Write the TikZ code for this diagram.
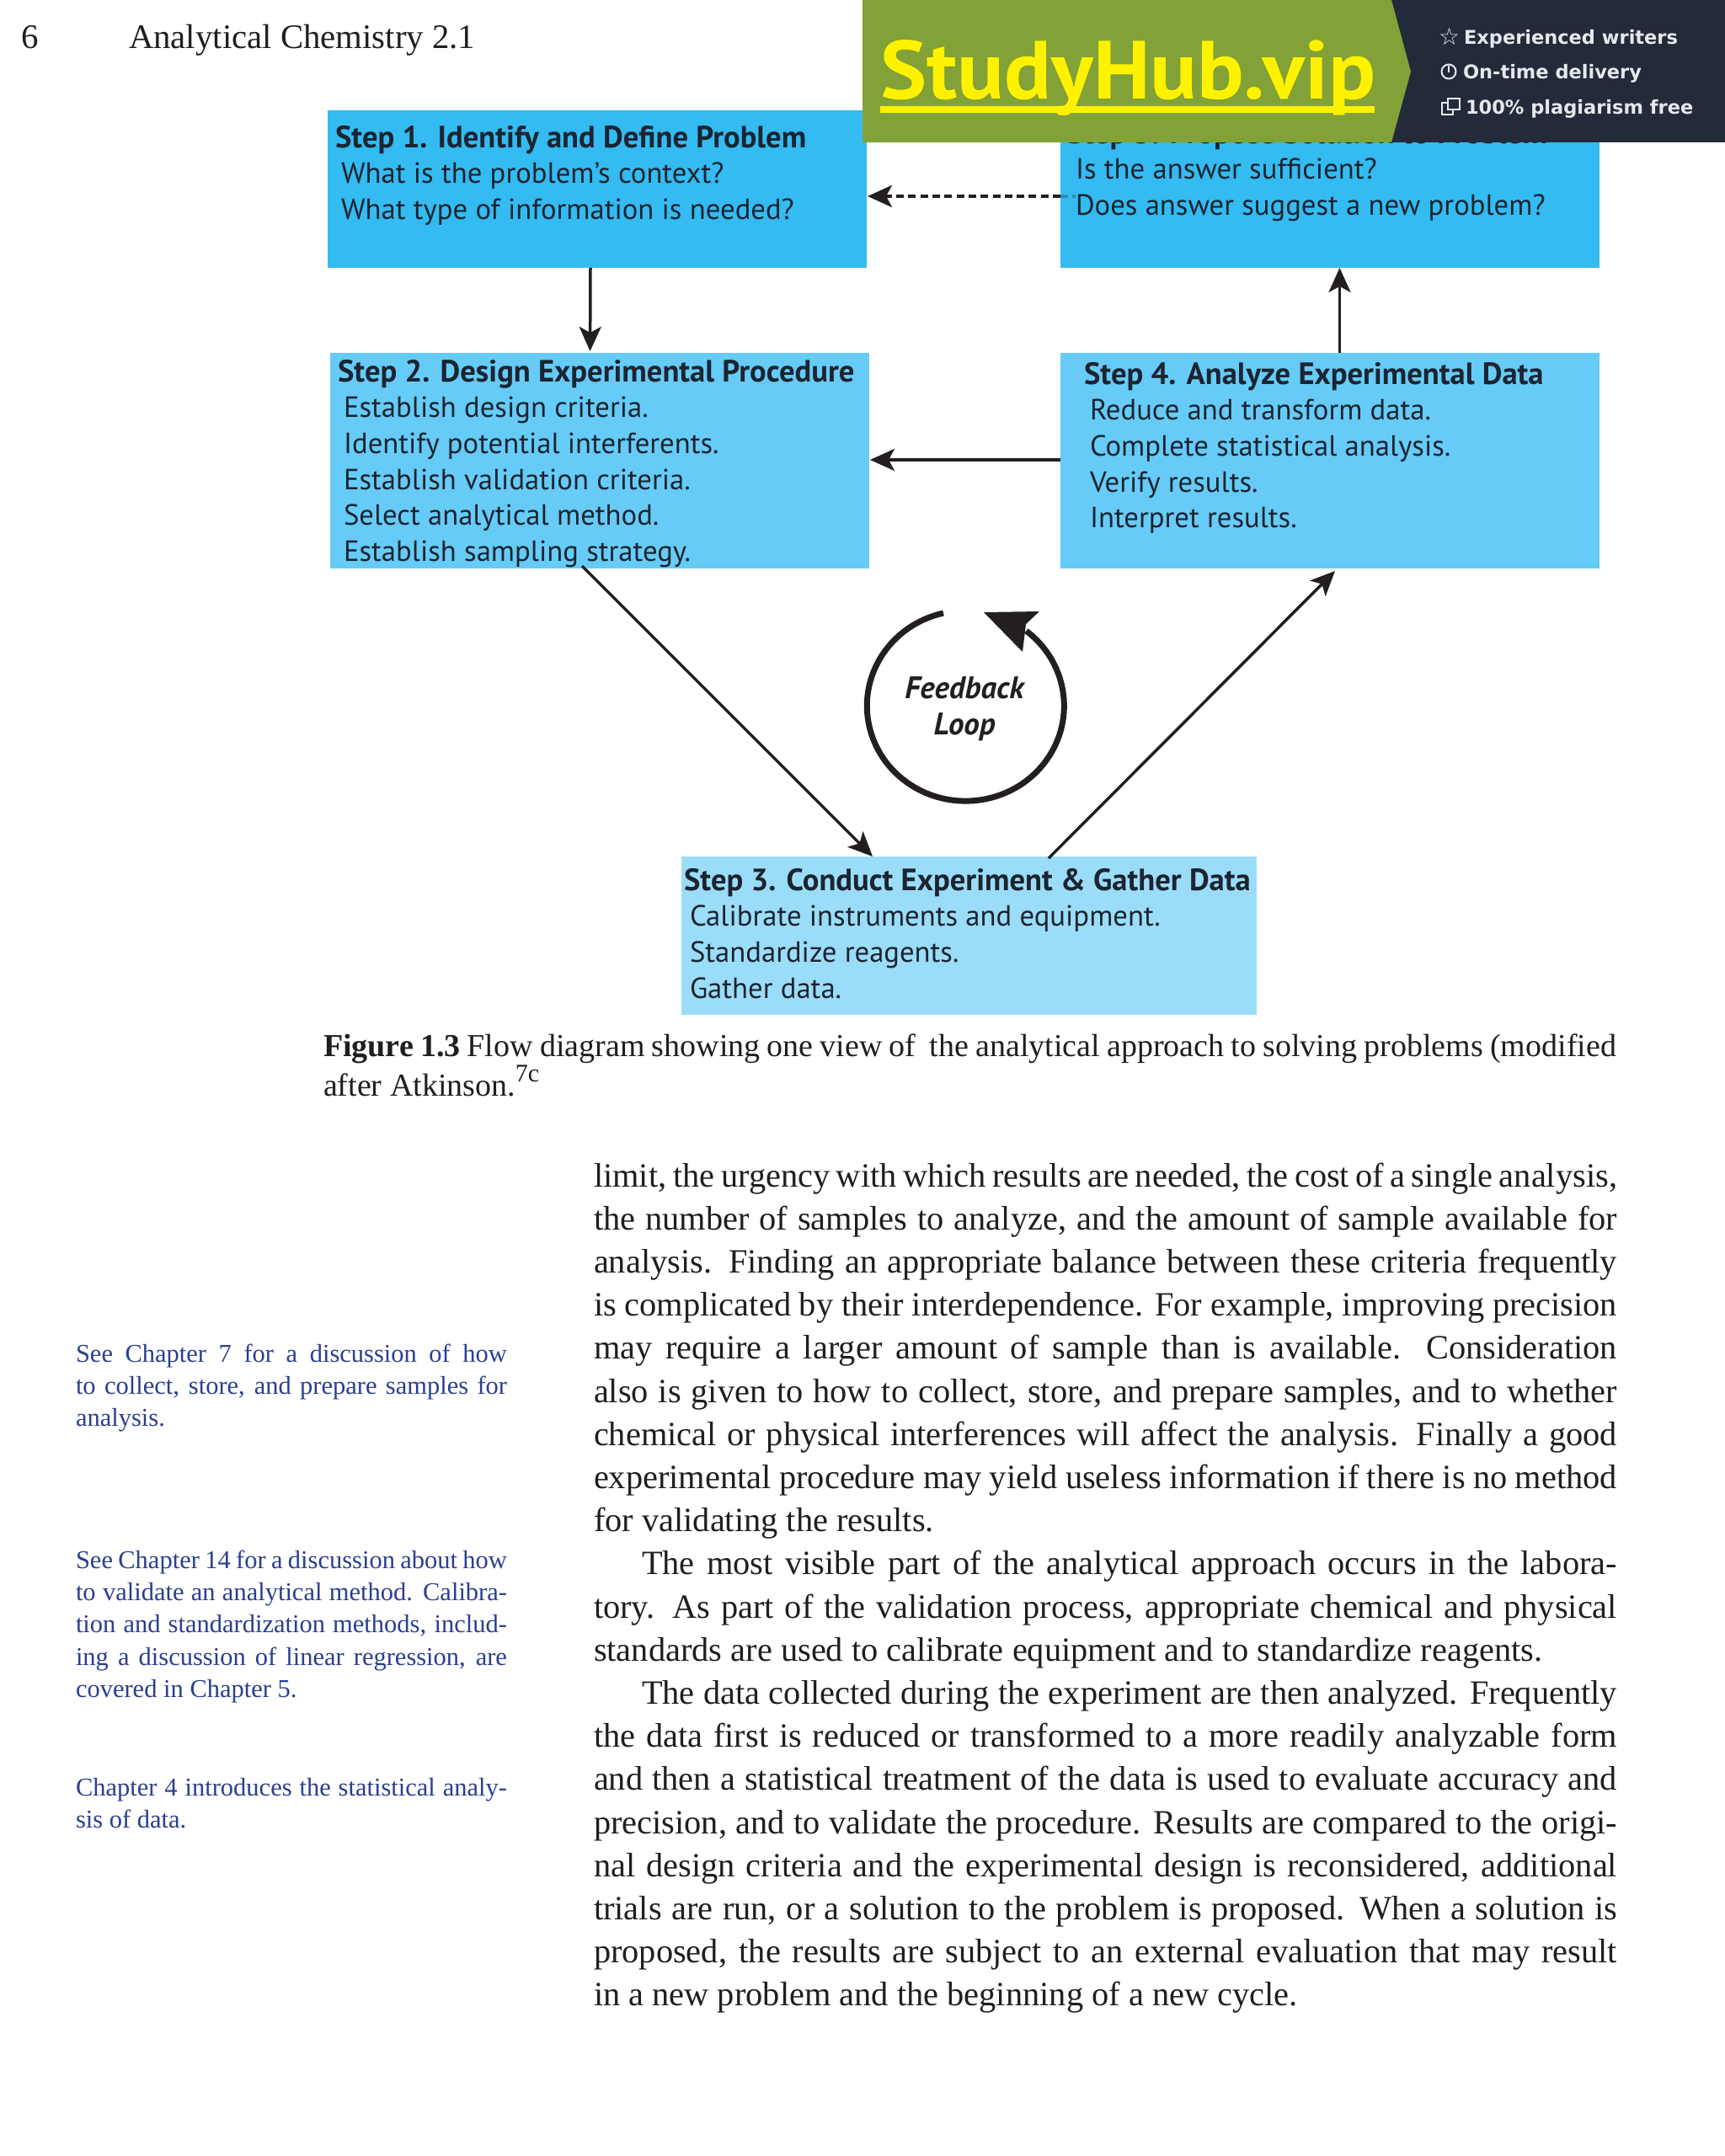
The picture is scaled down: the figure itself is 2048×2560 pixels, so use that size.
\documentclass[tikz,border=0pt]{standalone}
\usepackage{fontspec}
\setmainfont{Liberation Serif}
\newfontfamily\stepfont{PT Sans}
\newfontfamily\badgefont{DejaVu Sans}
\usetikzlibrary{arrows.meta}
\definecolor{stepDeep}{HTML}{33BBF2}
\definecolor{stepMid}{HTML}{66CBF7}
\definecolor{stepPale}{HTML}{9BDDF8}
\definecolor{stepInk}{HTML}{1B2430}
\definecolor{flowInk}{HTML}{231F20}
\definecolor{noteBlue}{HTML}{2B3F8F}
\definecolor{bannerGreen}{HTML}{82A136}
\definecolor{bannerDark}{HTML}{232B3B}
\definecolor{bannerYellow}{HTML}{FFF200}
\definecolor{badgeText}{HTML}{E6E8EB}
\tikzset{
  step box/.style={anchor=north west, inner sep=0pt, outer sep=0pt},
  step text/.style={anchor=north west, inner sep=0pt, outer sep=0pt, align=left,
    text=stepInk, font=\stepfont\fontsize{34.7}{42.6}\selectfont},
  flow/.style={line width=3.5pt, draw=flowInk,
    -{Stealth[length=29pt,width=26pt,inset=7pt]}},
  flow dashed/.style={flow, line width=4pt, dash pattern=on 9pt off 5.3pt},
  page text/.style={anchor=north west, inner sep=0pt, outer sep=0pt, align=left,
    text=black!88},
  note text/.style={page text, text=noteBlue, font=\fontsize{30.5}{38.4}\selectfont},
  badge/.style={anchor=base west, inner sep=0pt, outer sep=0pt, text=badgeText,
    font=\badgefont\bfseries\fontsize{22.5}{24}\selectfont}
}
% one printed line, spaces stretched to the measure
\newcommand{\BodyLine}[1]{\makebox[1215pt][s]{#1}}
\newcommand{\NoteLine}[1]{\makebox[512pt][s]{#1}}
\newcommand{\StepHead}[1]{\strut{\fontsize{36.6}{42.6}\selectfont\bfseries #1}}
\begin{document}
\begin{tikzpicture}[x=1pt,y=-1pt]
  \useasboundingbox (0,0) rectangle (2048,2560);
  \fill[white] (0,0) rectangle (2048,2560);

  % running head
  \node[page text,font=\fontsize{40.8}{48}\selectfont] (pagenum) at (25,24) {\strut 6};
  \node[page text,font=\fontsize{40.8}{48}\selectfont] (runhead) at (153,24) {\strut Analytical Chemistry 2.1};

  % steps
  \node[step box,fill=stepDeep,minimum width=640pt,minimum height=187pt] (step1) at (389,131) {};
  \node[step box,fill=stepMid,minimum width=640pt,minimum height=256pt] (step2) at (392,419) {};
  \node[step box,fill=stepPale,minimum width=683pt,minimum height=188pt] (step3) at (809,1017) {};
  \node[step box,fill=stepMid,minimum width=640pt,minimum height=256pt] (step4) at (1259,419) {};
  \node[step box,fill=stepDeep,minimum width=640pt,minimum height=187pt] (step5) at (1259,131) {};

  \node[step text] (step1 text) at ([xshift=9pt,yshift=-14.5pt]step1.north west) {%
    \StepHead{Step 1. Identify and Define Problem}\\
    \hspace*{7pt}What is the problem’s context?\\
    \hspace*{7pt}What type of information is needed?};
  \node[step text] (step2 text) at ([xshift=9pt,yshift=-4.5pt]step2.north west) {%
    \StepHead{Step 2. Design Experimental Procedure}\\
    \hspace*{7pt}Establish design criteria.\\
    \hspace*{7pt}Identify potential interferents.\\
    \hspace*{7pt}Establish validation criteria.\\
    \hspace*{7pt}Select analytical method.\\
    \hspace*{7pt}Establish sampling strategy.};
  \node[step text] (step3 text) at ([xshift=3pt,yshift=-10.5pt]step3.north west) {%
    \StepHead{Step 3. Conduct Experiment \& Gather Data}\\
    \hspace*{7pt}Calibrate instruments and equipment.\\
    \hspace*{7pt}Standardize reagents.\\
    \hspace*{7pt}Gather data.};
  \node[step text] (step4 text) at ([xshift=28pt,yshift=-7.5pt]step4.north west) {%
    \StepHead{Step 4. Analyze Experimental Data}\\
    \hspace*{7pt}Reduce and transform data.\\
    \hspace*{7pt}Complete statistical analysis.\\
    \hspace*{7pt}Verify results.\\
    \hspace*{7pt}Interpret results.};
  \node[step text] (step5 text) at ([xshift=8pt,yshift=-9.5pt]step5.north west) {%
    \StepHead{Step 5. Propose Solution to Problem}\\
    \hspace*{10pt}Is the answer sufficient?\\
    \hspace*{10pt}Does answer suggest a new problem?};

  % connectors
  \draw[flow] ([xshift=-8pt]step1.south) -- ([xshift=-11.4pt,yshift=2pt]step2.north);
  \draw[flow] ([xshift=11.5pt]step4.north) -- ([xshift=11.5pt]step5.south);
  \draw[flow] ([yshift=1pt]step4.west) -- ([yshift=1pt,xshift=1pt]step2.east);
  \draw[flow] ([xshift=-21pt,yshift=3pt]step2.south) -- ([xshift=-114.5pt]step3.north);
  \draw[flow] ([xshift=94.5pt,yshift=-2pt]step3.north) -- ([xshift=6pt,yshift=-3pt]step4.south);
  \draw[flow dashed] ([yshift=-8.5pt]step5.west) -- ([yshift=-8.5pt,xshift=1pt]step1.east);
  \draw[line width=4pt,draw=stepDeep!70!flowInk,dash pattern=on 9pt off 5.3pt]
    ([yshift=-8.5pt]step5.west) -- ([yshift=-8.5pt,xshift=18pt]step5.west);

  % feedback loop
  \draw[line width=7pt,draw=flowInk] (1120,728) arc[start angle=103,end angle=412,x radius=117pt,y radius=113pt];
  \fill[flowInk] (1168,727) -- (1234,726) -- (1218,741) -- (1214,774) -- cycle;
  \node[inner sep=0pt,align=center,text=flowInk,
    font=\stepfont\bfseries\itshape\fontsize{37}{43}\selectfont] (loop label) at (1145,842) {Feedback\\Loop};

  % caption
  \node[page text,font=\fontsize{38}{47}\selectfont] (caption) at (384,1222) {%
    \strut\makebox[1535pt][s]{\textbf{Figure 1.3} Flow diagram showing one view of \ the analytical approach to solving problems (modified}\\
    after Atkinson.\smash{\raisebox{17pt}{\fontsize{30}{30}\selectfont 7c}}};

  % body text
  \node[page text,font=\fontsize{40.4}{51.2}\selectfont] (body) at (705,1373.2) {%
    \strut\BodyLine{limit, the urgency with which results are needed, the cost of a single analysis,}\\
    \BodyLine{the number of samples to analyze, and the amount of sample available for}\\
    \BodyLine{analysis. Finding an appropriate balance between these criteria frequently}\\
    \BodyLine{is complicated by their interdependence. For example, improving precision}\\
    \BodyLine{may require a larger amount of sample than is available. Consideration}\\
    \BodyLine{also is given to how to collect, store, and prepare samples, and to whether}\\
    \BodyLine{chemical or physical interferences will affect the analysis. Finally a good}\\
    \BodyLine{experimental procedure may yield useless information if there is no method}\\
    for validating the results.\\
    \hspace*{57pt}\makebox[1158pt][s]{The most visible part of the analytical approach occurs in the labora-}\\
    \BodyLine{tory. As part of the validation process, appropriate chemical and physical}\\
    standards are used to calibrate equipment and to standardize reagents.\\
    \hspace*{57pt}\makebox[1158pt][s]{The data collected during the experiment are then analyzed. Frequently}\\
    \BodyLine{the data first is reduced or transformed to a more readily analyzable form}\\
    \BodyLine{and then a statistical treatment of the data is used to evaluate accuracy and}\\
    \BodyLine{precision, and to validate the procedure. Results are compared to the origi-}\\
    \BodyLine{nal design criteria and the experimental design is reconsidered, additional}\\
    \BodyLine{trials are run, or a solution to the problem is proposed. When a solution is}\\
    \BodyLine{proposed, the results are subject to an external evaluation that may result}\\
    in a new problem and the beginning of a new cycle.};

  % margin notes
  \node[note text] (note1) at (90,1590.1) {%
    \strut\NoteLine{See Chapter 7 for a discussion of how}\\
    \NoteLine{to collect, store, and prepare samples for}\\
    analysis.};
  \node[note text] (note2) at (90,1835.1) {%
    \strut\NoteLine{See Chapter 14 for a discussion about how}\\
    \NoteLine{to validate an analytical method. Calibra-}\\
    \NoteLine{tion and standardization methods, includ-}\\
    \NoteLine{ing a discussion of linear regression, are}\\
    covered in Chapter 5.};
  \node[note text] (note3) at (90,2105.6) {%
    \strut\NoteLine{Chapter 4 introduces the statistical analy-}\\
    sis of data.};

  % banner
  \fill[bannerDark] (1640,0) rectangle (2048,169);
  \fill[bannerGreen] (1024,0) -- (1652,0) -- (1675,85) -- (1652,169) -- (1024,169) -- cycle;
  \node[anchor=base west,inner sep=0pt,text=bannerYellow,
    font=\stepfont\bfseries\fontsize{98}{110}\selectfont] (logo) at (1045,117) {\scalebox{1.06}[1]{StudyHub.vip}};
  \fill[bannerYellow] (1045,126) rectangle (1632,134);
  \node[badge] (badge1) at (1738,52) {Experienced writers};
  \node[badge] (badge2) at (1737,93) {On-time delivery};
  \node[badge] (badge3) at (1740,135) {100\% plagiarism free};
  \node[anchor=base west,inner sep=0pt,text=badgeText,
    font=\badgefont\fontsize{28}{30}\selectfont] (star) at (1708,53) {☆};
  \draw[badgeText,line width=2pt] (1720,85) circle (8.5pt);
  \draw[badgeText,line width=2pt] (1720,78) -- (1720,86);
  \draw[badgeText,line width=1.8pt] (1712,122) rectangle (1725,136);
  \draw[badgeText,line width=1.8pt,fill=bannerDark] (1719,117) rectangle (1733,130);
\end{tikzpicture}
\end{document}
